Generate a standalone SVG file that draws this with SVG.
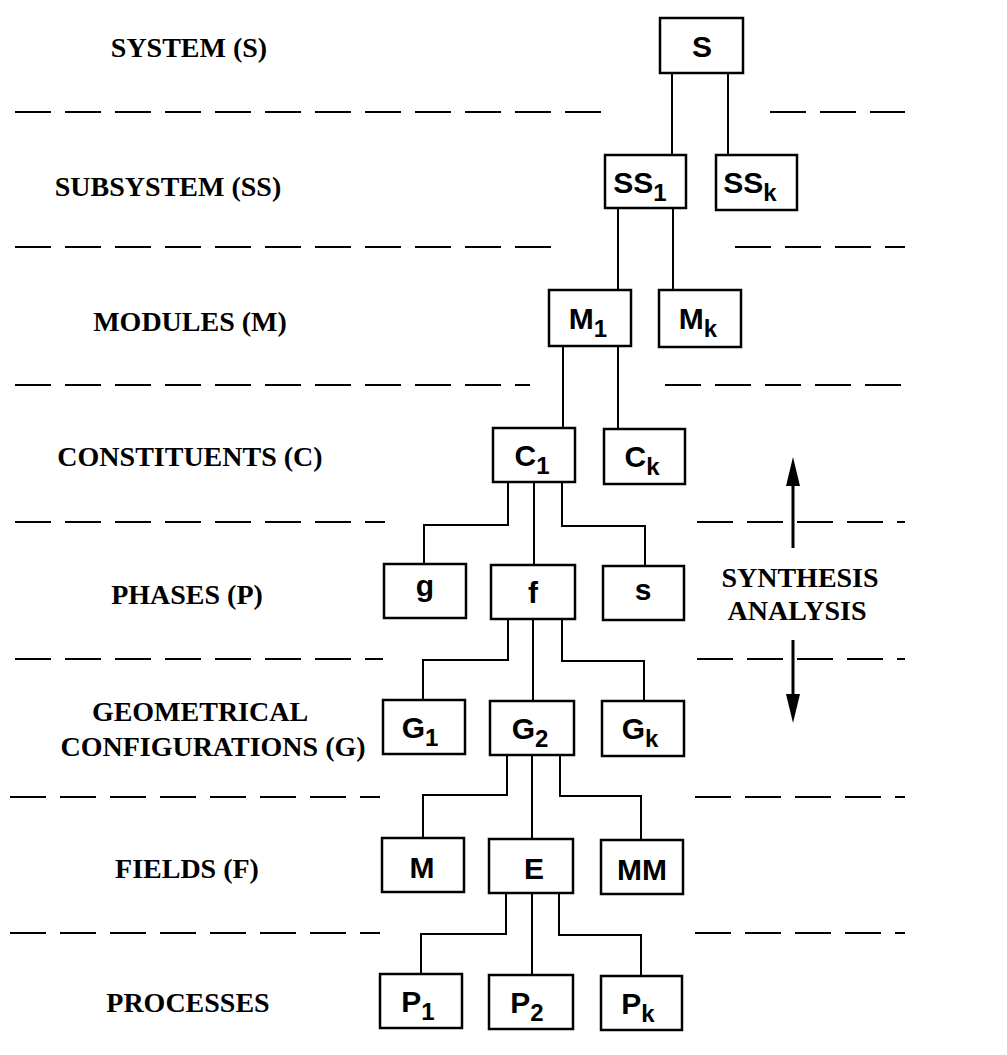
<svg xmlns="http://www.w3.org/2000/svg" width="1007" height="1055" viewBox="0 0 1007 1055">
<style>
.b{fill:#fff;stroke:#000;stroke-width:2.5}
.t{font-family:"Liberation Sans",Arial,sans-serif;font-weight:bold;font-size:30px;text-anchor:middle}
.s{font-size:24px}
.l{font-family:"Liberation Serif","Times New Roman",serif;font-weight:bold;font-size:28px;text-anchor:middle}
.d{stroke:#000;stroke-width:2;stroke-dasharray:36 14;fill:none}
.c{stroke:#000;stroke-width:2;fill:none}
</style>
<rect width="1007" height="1055" fill="#fff"/>
<g id="dashes">
<path class="d" d="M15 112H615M770 112H905M15 247H555M735 247H905M15 385H530M665 385H905M15 522H385M697 522H905M15 659H383M697 659H905M10 797H380M695 797H905M10 933H380M695 933H905"/>
</g>
<g id="labels">
<text class="l" x="189" y="57">SYSTEM (S)</text>
<text class="l" x="168" y="196">SUBSYSTEM (SS)</text>
<text class="l" x="190" y="331">MODULES (M)</text>
<text class="l" x="190" y="466">CONSTITUENTS (C)</text>
<text class="l" x="187" y="604">PHASES (P)</text>
<text class="l" x="200" y="721">GEOMETRICAL</text>
<text class="l" x="213" y="756">CONFIGURATIONS (G)</text>
<text class="l" x="187" y="878">FIELDS (F)</text>
<text class="l" x="188" y="1012">PROCESSES</text>
<text class="l" x="800" y="587">SYNTHESIS</text>
<text class="l" x="797" y="620">ANALYSIS</text>
</g>
<g id="connectors">
<path class="c" d="M672 73V155M728 73V155M618 208V290M673 208V290M563 346V428M618 346V429"/>
<path class="c" d="M508 482V525H424V564M534 482V565M562 482V526H645V566"/>
<path class="c" d="M508 619V660H423V700M533 619V701M562 619V661H644V701"/>
<path class="c" d="M507 755V795H423V838M532 755V839M560 755V796H641V840"/>
<path class="c" d="M506 893V934H421V974M532 893V975M559 893V935H641V976"/>
<path stroke="#000" stroke-width="3" d="M793 548V475M793 640V708"/>
<polygon points="793,457 786,486 800,486"/>
<polygon points="793,723 786,694 800,694"/>
</g>
<g id="S"><rect class="b" x="660" y="18" width="83" height="55"/><text class="t" x="702" y="57">S</text></g>
<g id="SS1"><rect class="b" x="605" y="155" width="81" height="53"/><text class="t" x="640" y="193">SS<tspan class="s" dy="8">1</tspan></text></g>
<g id="SSk"><rect class="b" x="716" y="155" width="81" height="55"/><text class="t" x="750" y="193">SS<tspan class="s" dy="8">k</tspan></text></g>
<g id="M1"><rect class="b" x="549" y="290" width="82" height="56"/><text class="t" x="588" y="329">M<tspan class="s" dy="8">1</tspan></text></g>
<g id="Mk"><rect class="b" x="659" y="290" width="82" height="57"/><text class="t" x="698" y="329">M<tspan class="s" dy="8">k</tspan></text></g>
<g id="C1"><rect class="b" x="493" y="428" width="82" height="54"/><text class="t" x="532" y="466">C<tspan class="s" dy="8">1</tspan></text></g>
<g id="Ck"><rect class="b" x="604" y="429" width="81" height="55"/><text class="t" x="642" y="467">C<tspan class="s" dy="8">k</tspan></text></g>
<g id="g"><rect class="b" x="384" y="564" width="82" height="54"/><text class="t" x="425" y="596">g</text></g>
<g id="f"><rect class="b" x="491" y="565" width="84" height="54"/><text class="t" x="533" y="603">f</text></g>
<g id="s"><rect class="b" x="603" y="566" width="81" height="54"/><text class="t" x="643" y="600">s</text></g>
<g id="G1"><rect class="b" x="383" y="700" width="82" height="54"/><text class="t" x="420" y="738">G<tspan class="s" dy="8">1</tspan></text></g>
<g id="G2"><rect class="b" x="490" y="701" width="84" height="54"/><text class="t" x="530" y="739">G<tspan class="s" dy="8">2</tspan></text></g>
<g id="Gk"><rect class="b" x="602" y="701" width="82" height="55"/><text class="t" x="640" y="739">G<tspan class="s" dy="8">k</tspan></text></g>
<g id="Mf"><rect class="b" x="382" y="838" width="82" height="54"/><text class="t" x="422" y="878">M</text></g>
<g id="E"><rect class="b" x="489" y="839" width="84" height="54"/><text class="t" x="534" y="879">E</text></g>
<g id="MM"><rect class="b" x="601" y="840" width="82" height="54"/><text class="t" x="642" y="880">MM</text></g>
<g id="P1"><rect class="b" x="380" y="974" width="82" height="54"/><text class="t" x="418" y="1012">P<tspan class="s" dy="8">1</tspan></text></g>
<g id="P2"><rect class="b" x="489" y="975" width="84" height="54"/><text class="t" x="527" y="1013">P<tspan class="s" dy="8">2</tspan></text></g>
<g id="Pk"><rect class="b" x="601" y="976" width="81" height="54"/><text class="t" x="638" y="1014">P<tspan class="s" dy="8">k</tspan></text></g>
</svg>
